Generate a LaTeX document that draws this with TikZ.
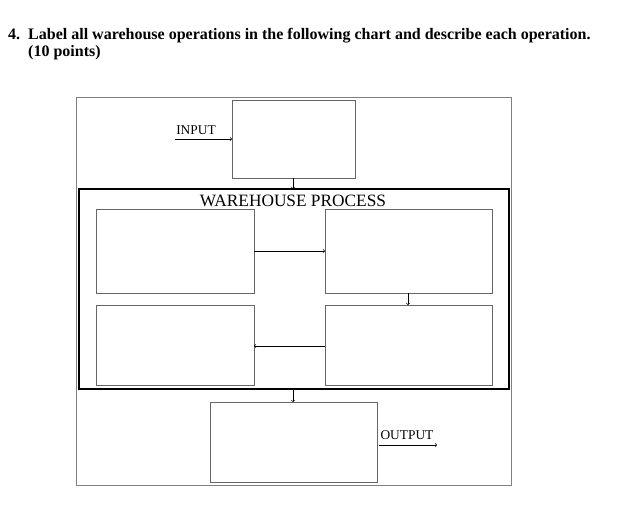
\documentclass[tikz,border=0pt]{standalone}
\usepackage{fontspec}
\setmainfont{Liberation Serif}
\begin{document}
\begin{tikzpicture}[x=1pt,y=-1pt,
  box/.style={draw=black!60,line width=0.7pt},
  arr/.style={->,>=to,line width=0.6pt},
  lbl/.style={inner sep=0pt,font=\fontsize{13.4}{14}\selectfont}]
\useasboundingbox (0,0) rectangle (633,521);
\node[anchor=west,inner sep=0pt,font=\bfseries\fontsize{16}{18}\selectfont] (t1) at (8,36) {4.\ \ Label all warehouse operations in the following chart and describe each operation.};
\node[anchor=west,inner sep=0pt,font=\bfseries\fontsize{16}{18}\selectfont] (t2) at (28,53) {(10 points)};
\draw[draw=black!50] (76,97) rectangle (511,485);
\draw[box] (232,100) rectangle (355,178);
\coordinate (topb) at (293,178);
\node[lbl] (in) at (196,130) {INPUT};
\coordinate (ins) at (175,139);
\coordinate (ine) at (232,139);
\draw[arr] (ins) -- (ine);
\draw[line width=1.6pt] (79,189) rectangle (509,389);
\coordinate (wht) at (293,189);
\draw[arr] (topb) -- (wht);
\node[inner sep=0pt,font=\fontsize{17.3}{18}\selectfont] (wp) at (293,201) {WAREHOUSE PROCESS};
\draw[box] (96,209) rectangle (254,293);
\draw[box] (325,209) rectangle (492,293);
\draw[box] (96,305) rectangle (254,385);
\draw[box] (325,305) rectangle (492,385);
\coordinate (a1) at (254,251); \coordinate (a2) at (325,251);
\draw[arr] (a1) -- (a2);
\coordinate (b1) at (408,293); \coordinate (b2) at (408,305);
\draw[arr] (b1) -- (b2);
\coordinate (c1) at (325,346); \coordinate (c2) at (254,346);
\draw[arr] (c1) -- (c2);
\coordinate (d1) at (293,390); \coordinate (d2) at (293,402);
\draw[arr] (d1) -- (d2);
\draw[box] (210,402) rectangle (377,482);
\node[lbl] (out) at (407,435) {OUTPUT};
\coordinate (os) at (379,445); \coordinate (oe) at (437,445);
\draw[arr] (os) -- (oe);
\end{tikzpicture}
\end{document}
